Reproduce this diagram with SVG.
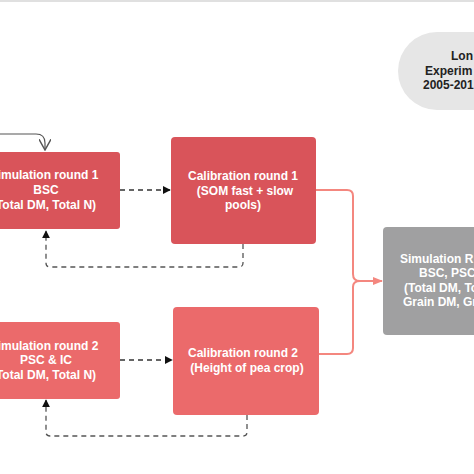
<svg xmlns="http://www.w3.org/2000/svg" width="474" height="474" viewBox="0 0 474 474">
<defs>
<style>
.t{font-family:"Liberation Sans",Arial,sans-serif;font-size:12px;font-weight:bold;fill:#ffffff;text-anchor:middle}
.ts{font-family:"Liberation Sans",Arial,sans-serif;font-size:12px;font-weight:bold;fill:#ffffff}
.tk{font-family:"Liberation Sans",Arial,sans-serif;font-size:12px;font-weight:bold;fill:#222222}
.r1{fill:#d9545a}
.r2{fill:#eb6a6b}
.dash{fill:none;stroke:#333333;stroke-width:1.3;stroke-dasharray:5,4}
.dashg{fill:none;stroke:#555555;stroke-width:1.3;stroke-dasharray:5,4}
.pink{fill:none;stroke:#f4877f;stroke-width:2}
</style>
<marker id="ab" viewBox="0 0 10 10" refX="9" refY="5" markerWidth="8" markerHeight="8" markerUnits="userSpaceOnUse" orient="auto">
<path d="M0,0 L10,5 L0,10 Z" fill="#111111"/>
</marker>
<marker id="ap" viewBox="0 0 10 10" refX="9" refY="5" markerWidth="10" markerHeight="10" markerUnits="userSpaceOnUse" orient="auto">
<path d="M0,1 L10,5 L0,9 Z" fill="#f4877f"/>
</marker>
<marker id="ao" viewBox="0 0 10 10" refX="9" refY="5" markerWidth="12" markerHeight="12" markerUnits="userSpaceOnUse" orient="auto">
<path d="M0,0 L9,5 L0,10" fill="none" stroke="#555555" stroke-width="1.2"/>
</marker>
</defs>
<rect x="0" y="0" width="474" height="474" fill="#ffffff"/>
<rect x="0" y="0" width="474" height="2" fill="#e0e0e0"/>

<g id="connectors">
<path class="dash" d="M120,190 L170,190" marker-end="url(#ab)"/>
<path class="dashg" d="M243,244 L243,263 Q243,267 239,267 L50,267 Q46,267 46,263 L46,231" marker-end="url(#ab)"/>
<path class="dash" d="M120,360 L172,360" marker-end="url(#ab)"/>
<path class="dashg" d="M247,415 L247,432 Q247,436 243,436 L50,436 Q46,436 46,432 L46,400" marker-end="url(#ab)"/>
<path class="pink" d="M316,190 L347,190 Q353,190 353,196 L353,274 Q353,281 360,281 L382,281" marker-end="url(#ap)"/>
<path class="pink" d="M319,354 L347,354 Q353,354 353,348 L353,287 Q353,281 360,281"/>
<path d="M0,134 L36,134 Q45,134 45,143 L45,150" fill="none" stroke="#555555" stroke-width="1.2" marker-end="url(#ao)"/>
</g>

<g id="terminator">
<rect x="398" y="32" width="120" height="78" rx="39" ry="39" fill="#e6e6e6"/>
<text class="tk" x="451" y="60">Lon</text>
<text class="tk" x="425" y="75">Experim</text>
<text class="tk" x="423" y="89">2005-201</text>
</g>

<g id="sim1">
<rect class="r1" x="-30" y="152" width="150" height="77" rx="3"/>
<text class="t" x="44" y="179">Simulation round 1</text>
<text class="t" x="46" y="194">BSC</text>
<text class="t" x="44" y="209">(Total DM, Total N)</text>
</g>

<g id="cal1">
<rect class="r1" x="171" y="137" width="145" height="107" rx="4"/>
<text class="t" x="243" y="180">Calibration round 1</text>
<text class="t" x="245" y="195">(SOM fast + slow</text>
<text class="t" x="243" y="209">pools)</text>
</g>

<g id="sim2">
<rect class="r2" x="-30" y="322" width="150" height="77" rx="3"/>
<text class="t" x="44" y="350">Simulation round 2</text>
<text class="t" x="46" y="364">PSC &amp; IC</text>
<text class="t" x="44" y="379">(Total DM, Total N)</text>
</g>

<g id="cal2">
<rect class="r2" x="173" y="307" width="146" height="108" rx="4"/>
<text class="t" x="243" y="357">Calibration round 2</text>
<text class="t" x="247" y="372">(Height of pea crop)</text>
</g>

<g id="sim3">
<rect x="383" y="227" width="110" height="108" rx="4" fill="#a0a0a1"/>
<text class="ts" x="400" y="263">Simulation R</text>
<text class="ts" x="419" y="277">BSC, PSC</text>
<text class="ts" x="404" y="292">(Total DM, To</text>
<text class="ts" x="403" y="306">Grain DM, Gr</text>
</g>
</svg>
